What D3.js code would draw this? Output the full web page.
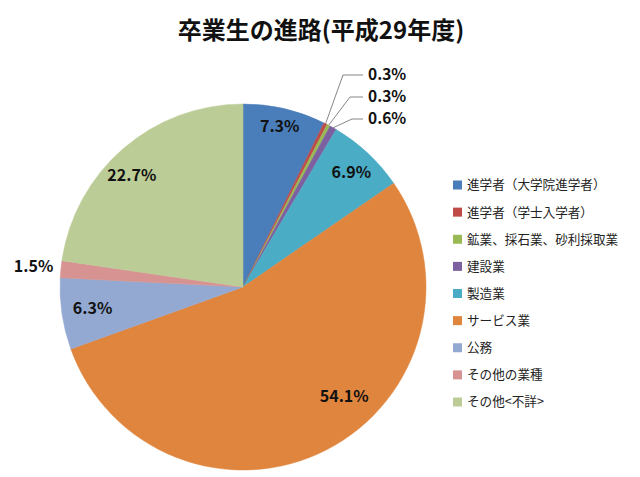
<!DOCTYPE html>
<html>
<head>
<meta charset="utf-8">
<script src="https://cdn.jsdelivr.net/npm/d3@7"></script>
<style>
  body { margin: 0; background: #fff; }
  text { font-family: "Noto Sans CJK JP", "Noto Sans", sans-serif; }
</style>
</head>
<body>
<div id="container"></div>
<script>
const title = "卒業生の進路(平成29年度)";
const categories = [
  "進学者（大学院進学者）",
  "進学者（学士入学者）",
  "鉱業、採石業、砂利採取業",
  "建設業",
  "製造業",
  "サービス業",
  "公務",
  "その他の業種",
  "その他<不詳>"
];
const values = [7.3, 0.3, 0.3, 0.6, 6.9, 54.1, 6.3, 1.5, 22.7];
const colors = [
  "#4a7ebb", "#be4b48", "#98b954", "#7d60a0", "#4aacc5",
  "#e0853d", "#93a9d1", "#d69391", "#bccc96"
];

// label placement: fraction along slice angle and fraction of radius
const labelAngleFrac = [0.49, 0.5, 0.5, 0.5, 0.52, 0.42, 0.52, 0.5, 0.45];
const labelRadiusFrac = [0.9, 0, 0, 0, 0.86, 0.815, 0.83, 1.15, 0.86];
// small slices get leader lines to labels at the right
const leaderY = { 1: 75, 2: 97, 3: 119 };
const leaderElbowX = { 1: 343, 2: 350, 3: 352 };

const width = 640, height = 477;
const cx = 243, cy = 287, r = 183;

const svg = d3.select("#container").append("svg")
  .attr("width", width).attr("height", height);

svg.append("text")
  .attr("x", 321).attr("y", 39)
  .attr("text-anchor", "middle")
  .style("font-size", "24px").style("font-weight", "bold")
  .attr("fill", "#111")
  .text(title);

const data = values.map((v, i) => ({ name: categories[i], value: v, i }));
const pie = d3.pie().sort(null).value(d => d.value);
const arcs = pie(data);
const arc = d3.arc().innerRadius(0).outerRadius(r);

const g = svg.append("g").attr("transform", `translate(${cx},${cy})`);

g.selectAll("path")
  .data(arcs)
  .enter()
  .append("path")
  .attr("d", arc)
  .attr("fill", d => colors[d.data.i])
  .attr("stroke", d => colors[d.data.i])
  .attr("stroke-width", 0.5);

const fmt = v => v.toFixed(1) + "%";

arcs.forEach(d => {
  const i = d.data.i;
  if (leaderY[i] !== undefined) {
    const mid = (d.startAngle + d.endAngle) / 2;
    const sx = cx + Math.sin(mid) * r, sy = cy - Math.cos(mid) * r;
    svg.append("polyline")
      .attr("points", [[sx, sy], [leaderElbowX[i], leaderY[i]], [363, leaderY[i]]].map(p => p.join(",")).join(" "))
      .attr("fill", "none")
      .attr("stroke", "#666")
      .attr("stroke-width", 0.8);
    svg.append("text")
      .attr("x", 368).attr("y", leaderY[i])
      .attr("dy", "0.35em")
      .style("font-size", "15.5px").style("font-weight", "bold")
      .attr("fill", "#111")
      .text(fmt(d.data.value));
    return;
  }
  const a = d.startAngle + (d.endAngle - d.startAngle) * labelAngleFrac[i];
  const rr = r * labelRadiusFrac[i];
  g.append("text")
    .attr("x", Math.sin(a) * rr)
    .attr("y", -Math.cos(a) * rr)
    .attr("dy", "0.35em")
    .attr("text-anchor", "middle")
    .style("font-size", "16px").style("font-weight", "bold")
    .attr("fill", "#111")
    .text(fmt(d.data.value));
});

const legend = svg.append("g")
  .attr("transform", "translate(453,185)");
const rowScale = d3.scalePoint().domain(categories).range([0, 217]);
const row = legend.selectAll("g")
  .data(categories)
  .enter()
  .append("g")
  .attr("transform", d => `translate(0,${rowScale(d)})`);
row.append("rect")
  .attr("x", 0).attr("y", -4.5)
  .attr("width", 9).attr("height", 9)
  .attr("fill", (d, i) => colors[i]);
row.append("text")
  .attr("x", 14).attr("dy", "0.35em")
  .style("font-size", "12.6px")
  .attr("fill", "#222")
  .text(d => d);
</script>
</body>
</html>
